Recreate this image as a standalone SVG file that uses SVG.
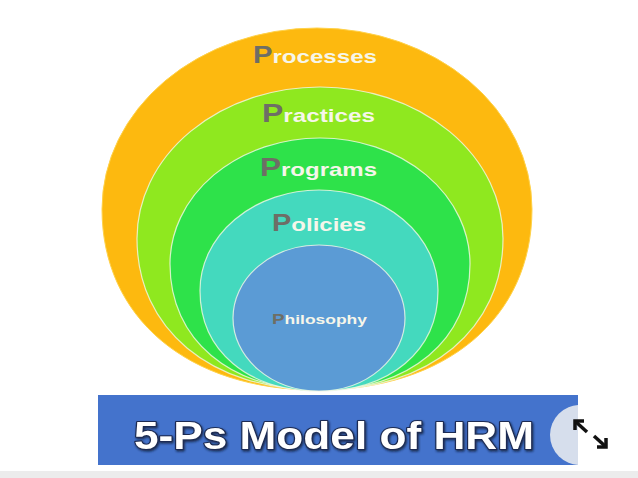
<svg xmlns="http://www.w3.org/2000/svg" width="638" height="478" viewBox="0 0 638 478">
<style>
.ring{stroke:#f4f8e8;stroke-width:1.2;stroke-opacity:0.8}
.lbl{font-family:"Liberation Sans",Arial,sans-serif;font-weight:bold;fill:#f6f6ea}
.p{fill:#6e6e66}
.title{font-family:"Liberation Sans",Arial,sans-serif;font-weight:bold;fill:#ffffff;stroke:#1d2b52;stroke-width:2.2;paint-order:stroke;stroke-linejoin:round}
.arw{fill:none;stroke:#111111;stroke-width:3.5;stroke-linecap:butt;stroke-linejoin:miter}
</style>
<defs>
<clipPath id="barClip"><rect x="98" y="395" width="480" height="70"/></clipPath>
<filter id="sh" x="-5%" y="-20%" width="110%" height="140%">
<feDropShadow dx="1" dy="1.5" stdDeviation="1.2" flood-color="#0e1830" flood-opacity="0.8"/>
</filter>
</defs>
<rect width="638" height="478" fill="#ffffff"/>
<rect x="0" y="471" width="638" height="7" fill="#ececec"/>
<g id="processes">
<path d="M317,390 C188,390 102,318 102,209 A215,181 0 0 1 532,209 C532,318 446,390 317,390 Z" fill="#fdb90f" stroke="#ffd24a" stroke-width="1"/>
<text class="lbl" x="253" y="63" textLength="124" lengthAdjust="spacingAndGlyphs"><tspan class="p" font-size="23">P</tspan><tspan font-size="19">rocesses</tspan></text>
</g>
<g id="practices">
<path class="ring" d="M320,390 C210,390 137,329 137,238.5 A183,151.5 0 0 1 503,238.5 C503,329 430,390 320,390 Z" fill="#8fe81f"/>
<text class="lbl" x="262" y="122" textLength="113" lengthAdjust="spacingAndGlyphs"><tspan class="p" font-size="25">P</tspan><tspan font-size="19">ractices</tspan></text>
</g>
<g id="programs">
<path class="ring" d="M320,390 C230,390 170,340 170,264 A150,126 0 0 1 470,264 C470,340 410,390 320,390 Z" fill="#2ee24a"/>
<text class="lbl" x="260" y="176" textLength="117" lengthAdjust="spacingAndGlyphs"><tspan class="p" font-size="25">P</tspan><tspan font-size="19">rograms</tspan></text>
</g>
<g id="policies">
<path class="ring" d="M319,391 C248,391 200,351 200,290.5 A119,100.5 0 0 1 438,290.5 C438,351 390,391 319,391 Z" fill="#44d9be"/>
<text class="lbl" x="272" y="231" textLength="94" lengthAdjust="spacingAndGlyphs"><tspan class="p" font-size="23">P</tspan><tspan font-size="19">olicies</tspan></text>
</g>
<g id="philosophy">
<ellipse class="ring" cx="319" cy="318" rx="86" ry="73" fill="#5b9bd5"/>
<text class="lbl" x="272" y="324" textLength="95" lengthAdjust="spacingAndGlyphs"><tspan class="p" font-size="14">P</tspan><tspan font-size="13">hilosophy</tspan></text>
</g>
<g id="connectors"></g>
<g id="title">
<rect x="98" y="395" width="480" height="70" fill="#4473cc"/>
<circle cx="580" cy="435" r="30" fill="#d6deec" clip-path="url(#barClip)"/>
<text class="title" x="134" y="449" font-size="39" textLength="400" lengthAdjust="spacingAndGlyphs" filter="url(#sh)">5-Ps Model of HRM</text>
</g>
<g id="expand-icon">
<polyline class="arw" points="584,421 575,421 575,430"/>
<line class="arw" x1="576" y1="422" x2="587" y2="432"/>
<polyline class="arw" points="597,447 606,447 606,438"/>
<line class="arw" x1="605" y1="446" x2="594" y2="436"/>
</g>
</svg>
